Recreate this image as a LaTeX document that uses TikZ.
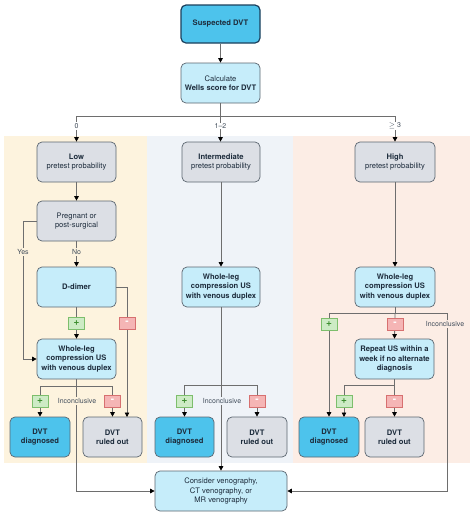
\documentclass[tikz,border=0pt]{standalone}
\usepackage{fontspec}
\setmainfont{TeX Gyre Heros}
\usetikzlibrary{arrows.meta}
\definecolor{txt}{HTML}{1E2D3D}
\definecolor{bord}{HTML}{5C6670}
\definecolor{grayf}{HTML}{DCDFE5}
\definecolor{lightf}{HTML}{C6EDFA}
\definecolor{darkf}{HTML}{4DC3EC}
\definecolor{navy}{HTML}{1B3F5C}
\definecolor{linec}{HTML}{6E6E6E}
\definecolor{panY}{HTML}{FDF3DE}
\definecolor{panB}{HTML}{EFF3F8}
\definecolor{panP}{HTML}{FCEDE5}
\definecolor{plusf}{HTML}{CDEBC5}
\definecolor{plusd}{HTML}{7DBE6C}
\definecolor{plust}{HTML}{3E8E30}
\definecolor{minf}{HTML}{F5B5B5}
\definecolor{mind}{HTML}{D77070}
\begin{document}
\begin{tikzpicture}[x=1pt,y=-1pt,
  bxbase/.style={draw=bord, line width=0.7pt, rounded corners=5pt, align=center, text=txt,
     font=\fontsize{7.6}{9.2}\selectfont, minimum height=40pt, inner sep=1pt},
  bxgray/.style={bxbase, fill=grayf, minimum width=79pt},
  bxlight/.style={bxbase, fill=lightf, minimum width=79pt},
  bxdark/.style={bxbase, fill=darkf, minimum width=59pt},
  bxout/.style={bxbase, fill=grayf, minimum width=59pt},
  conn/.style={draw=linec, line width=0.8pt},
  arr/.style={conn, -{Triangle[width=4.5pt,length=4.5pt,color=black]}},
  lab/.style={font=\fontsize{7}{8}\selectfont, text=txt!85, inner sep=1pt},
  sgnp/.style={draw=plusd, fill=plusf, text=plust, minimum width=16pt, minimum height=12pt,
     inner sep=0pt, line width=0.6pt, font=\fontsize{10}{10}\selectfont\bfseries},
  sgnm/.style={draw=mind, fill=minf, text=white, minimum width=16pt, minimum height=12pt,
     inner sep=0pt, line width=0.6pt, font=\fontsize{10}{10}\selectfont\bfseries}
]
\useasboundingbox (0,0) rectangle (474,515);
\fill[white] (0,0) rectangle (474,515);
% panels
\fill[panY] (4,136) rectangle (147,463);
\fill[panB] (147,136) rectangle (293,463);
\fill[panP] (293,136) rectangle (470,463);

% top
\node[bxbase, fill=darkf, draw=navy, line width=1.2pt, minimum width=79pt, minimum height=38pt] (sus) at (220.5,24) {\textbf{Suspected DVT}};
\node[bxlight] (calc) at (220.5,83) {Calculate\\\textbf{Wells score for DVT}};

% level 1
\node[bxgray] (low) at (76.5,162) {\textbf{Low}\\pretest probability};
\node[bxgray, minimum width=78pt] (inter) at (221,162) {\textbf{Intermediate}\\pretest probability};
\node[bxgray, minimum width=80pt] (high) at (395,162) {\textbf{High}\\pretest probability};

% left column
\node[bxgray] (preg) at (76.5,221) {Pregnant or\\post-surgical};
\node[bxlight] (ddim) at (76.5,287) {\textbf{D-dimer}};
\node[bxlight] (wl1) at (76.5,359) {\textbf{Whole-leg}\\\textbf{compression US}\\\textbf{with venous duplex}};

% middle / right
\node[bxlight, minimum width=78pt] (wl2) at (221,287) {\textbf{Whole-leg}\\\textbf{compression US}\\\textbf{with venous duplex}};
\node[bxlight, minimum width=80pt] (wl3) at (395,287) {\textbf{Whole-leg}\\\textbf{compression US}\\\textbf{with venous duplex}};
\node[bxlight] (rep) at (394.5,359) {\textbf{Repeat US within a}\\\textbf{week if no alternate}\\\textbf{diagnosis}};

% outcomes
\node[bxdark, minimum width=60pt] (d1) at (40,437) {\textbf{DVT}\\\textbf{diagnosed}};
\node[bxout] (r1) at (112.5,437) {\textbf{DVT}\\\textbf{ruled out}};
\node[bxdark] (d2) at (184.5,437) {\textbf{DVT}\\\textbf{diagnosed}};
\node[bxout, minimum width=60pt] (r2) at (257,437) {\textbf{DVT}\\\textbf{ruled out}};
\node[bxdark, minimum width=60pt] (d3) at (329,437) {\textbf{DVT}\\\textbf{diagnosed}};
\node[bxout] (r3) at (394.5,437) {\textbf{DVT}\\\textbf{ruled out}};

\node[bxlight, minimum width=132pt] (cons) at (221,491) {Consider venography,\\CT venography, or\\MR venography};

% connectors top
\draw[arr] (sus) -- (calc);
\draw[conn] (calc.south) -- (220.5,116) coordinate (br);
\draw[arr] (br) -| (low.north);
\draw[arr] (br) -| (high.north);
\draw[arr] (br) -- (br |- inter.north);
\node[lab, fill=white] (l0) at (76.5,126) {0};
\node[lab, fill=white] (l12) at (220.5,126) {1–2};
\node[lab, fill=white] (l3) at (395,126) {$\geq$ 3};

% left column
\draw[arr] (low) -- (preg);
\draw[arr] (preg) -- (ddim);
\node[lab, fill=panY] (no) at (76.5,252) {No};
\draw[arr] (preg.west) -- (23,221) -- (23,359) -- (wl1.west);
\node[lab, fill=panY] (yes) at (23,252) {Yes};
\draw[arr] (ddim) -- (wl1);
\draw[arr] (ddim.east) -- (127,287) -- (127,417);
\node[sgnp] (p1) at (76.5,323) {+};
\node[sgnm] (m1) at (127,323) {-};
\draw[conn] (wl1.south) -- (76.5,386) coordinate (b1);
\draw[arr] (b1) -| (d1.north);
\draw[arr] (b1) -| (r1.north);
\draw[arr] (b1) -- (76.5,491) -- (cons.west);
\node[sgnp] (p2) at (40,401) {+};
\node[sgnm] (m2) at (112.5,401) {-};
\node[lab, fill=panY] (inc1) at (77,401) {Inconclusive};

% middle column
\draw[arr] (inter) -- (wl2);
\draw[conn] (wl2.south) -- (221,385) coordinate (b2);
\draw[arr] (b2) -| (d2.north);
\draw[arr] (b2) -| (r2.north);
\draw[arr] (b2) -- (cons.north);
\node[sgnp] (p3) at (184.5,401) {+};
\node[sgnm] (m3) at (257,401) {-};
\node[lab, fill=panB] (inc2) at (222,401) {Inconclusive};

% right column
\draw[arr] (high) -- (wl3);
\draw[conn] (wl3.south) -- (395,313) coordinate (b3);
\draw[arr] (b3) -| (d3.north);
\draw[arr] (b3) -- (rep.north);
\draw[arr] (b3) -- (447,313) -- (447,491) -- (cons.east);
\node[sgnp] (p4) at (329,324) {+};
\node[sgnm] (m4) at (395,324) {-};
\node[lab, fill=panP] (inc3) at (445,324) {Inconclusive};
\draw[conn] (rep.south) -- (394.5,385) coordinate (b4);
\draw[arr] (b4) -| (344,417);
\draw[arr] (b4) -- (r3.north);
\node[sgnp] (p5) at (344,401) {+};
\node[sgnm] (m5) at (394.5,401) {-};
\end{tikzpicture}
\end{document}
